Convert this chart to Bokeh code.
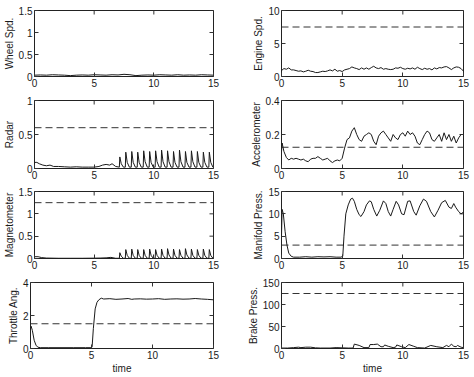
from math import pi
from bokeh.plotting import figure
from bokeh.models import Range1d, FixedTicker
from bokeh.layouts import column, row
from bokeh.embed import file_html
from bokeh.resources import INLINE

# ---------------- data ----------------
x_ticks = [0, 5, 10, 15]

# Wheel speed (sampled every 0.5 s)
wheel_t = [i * 0.5 for i in range(31)]
wheel_v = [0.03, 0.035, 0.03, 0.04, 0.035, 0.03, 0.02, 0.03, 0.035, 0.03, 0.04,
           0.035, 0.03, 0.04, 0.035, 0.05, 0.04, 0.02, 0.03, 0.035, 0.03, 0.04,
           0.035, 0.03, 0.04, 0.03, 0.035, 0.03, 0.04, 0.035, 0.03]

# Engine speed (sampled every 0.2 s)
engine_t = [round(i * 0.2, 1) for i in range(76)]
engine_v = [0.9, 1.2, 1.1, 1.3, 1.0, 1.0, 0.9, 0.8, 0.85, 0.7, 0.8, 0.95, 0.8, 0.75,
            0.6, 0.6, 0.7, 0.8, 0.75, 0.85, 1.0, 0.85, 1.1, 0.8, 0.9, 0.75, 1.0, 1.1,
            1.2, 1.45, 1.3, 1.2, 1.05, 1.3, 1.1, 1.3, 1.1, 1.35, 1.55, 1.3, 1.2, 1.35,
            1.1, 1.2, 1.1, 1.05, 1.1, 1.3, 1.25, 1.4, 1.2, 1.1, 1.25, 1.15, 1.3, 1.1,
            1.4, 1.2, 1.05, 1.25, 1.1, 1.2, 1.0, 1.3, 1.15, 1.35, 1.3, 1.45, 1.5, 1.3,
            1.05, 1.3, 1.45, 1.4, 1.2, 0.8]

# Spike times shared by radar and magnetometer
spike_t = [7.15, 7.65, 8.15, 8.65, 9.15, 9.65, 10.15, 10.65,
           11.15, 11.65, 12.15, 12.65, 13.15, 13.65, 14.15, 14.65]

radar_pre_t = [0, 0.2, 0.4, 0.7, 1.0, 1.3, 1.6, 2.0, 2.5, 3.0, 3.5, 4.0, 4.5, 5.0,
               5.4, 5.7, 6.0, 6.3, 6.5, 6.8]
radar_pre_v = [0.09, 0.09, 0.07, 0.05, 0.04, 0.05, 0.03, 0.03, 0.025, 0.02, 0.025,
               0.02, 0.02, 0.02, 0.03, 0.05, 0.06, 0.05, 0.07, 0.03]
radar_peak = [0.17, 0.24, 0.25, 0.24, 0.26, 0.25, 0.26, 0.27,
              0.26, 0.25, 0.27, 0.25, 0.26, 0.25, 0.24, 0.24]
radar_mid = [0.07, 0.09, 0.09, 0.09, 0.1, 0.09, 0.1, 0.1,
             0.1, 0.09, 0.1, 0.09, 0.1, 0.09, 0.09, 0.09]
radar_base = 0.02

magnet_pre_t = [0, 0.3, 0.6, 1.0, 2.0, 3.0, 4.0, 5.0, 5.5, 6.0, 6.4, 6.8]
magnet_pre_v = [0.04, 0.04, 0.02, 0.01, 0.005, 0.005, 0.005, 0.008, 0.01, 0.015,
                0.025, 0.005]
magnet_peak = [0.13, 0.2, 0.21, 0.2, 0.2, 0.21, 0.2, 0.21,
               0.22, 0.21, 0.2, 0.22, 0.21, 0.2, 0.21, 0.2]
magnet_mid = [0.05, 0.07, 0.07, 0.07, 0.07, 0.07, 0.07, 0.07,
              0.08, 0.07, 0.07, 0.08, 0.07, 0.07, 0.07, 0.07]
magnet_base = 0.005

accel_t = [0, 0.05] + [round(0.2 + i * 0.2, 1) for i in range(74)]
accel_v = [0.10, 0.15, 0.1, 0.065, 0.05, 0.06, 0.055, 0.06, 0.055, 0.05, 0.055,
           0.045, 0.04, 0.055, 0.06, 0.06, 0.07, 0.06, 0.05, 0.055, 0.06, 0.045,
           0.035, 0.045, 0.05, 0.045, 0.06, 0.12, 0.17, 0.18, 0.22, 0.24, 0.2, 0.17,
           0.16, 0.19, 0.2, 0.21, 0.2, 0.16, 0.14, 0.19, 0.21, 0.22, 0.2, 0.18, 0.16,
           0.2, 0.18, 0.17, 0.2, 0.21, 0.19, 0.22, 0.2, 0.21, 0.19, 0.15, 0.14, 0.17,
           0.2, 0.22, 0.21, 0.17, 0.16, 0.18, 0.2, 0.16, 0.21, 0.17, 0.2, 0.16, 0.19,
           0.15, 0.18, 0.2]

manifold_t = [0, 0.05, 0.15, 0.3, 0.45, 0.6, 0.8, 1.0, 1.5, 2.0, 2.5, 3.0, 3.5, 4.0,
              4.5, 4.9, 5.05, 5.15, 5.3, 5.5, 5.7, 5.85, 6.0, 6.2, 6.4, 6.55, 6.8,
              7.0, 7.25, 7.4, 7.6, 7.85, 8.1, 8.4, 8.6, 8.8, 9.0, 9.2, 9.45, 9.65,
              9.9, 10.1, 10.4, 10.6, 10.9, 11.1, 11.4, 11.7, 11.95, 12.3, 12.6, 12.9,
              13.2, 13.5, 13.8, 14.0, 14.2, 14.35, 14.6, 14.8, 15.0]
manifold_v = [5, 11, 10, 6, 3, 1.2, 0.5, 0.3, 0.3, 0.4, 0.3, 0.4, 0.35, 0.4, 0.3,
              0.3, 0.5, 5, 10, 12, 13.3, 13.5, 12.8, 11, 9.8, 9.4, 10.5, 12, 12.9,
              12.7, 11, 9.5, 10.8, 12.9, 12.3, 10.5, 9.5, 11, 12.8, 12, 10, 9.8, 12.8,
              12.9, 10.5, 9.7, 11.8, 13.3, 12.8, 10.5, 9.3, 10.8, 12.5, 13, 11.5,
              11.2, 12.3, 11.5, 10.5, 10.0, 10.4]

throttle_t = [0, 0.05, 0.15, 0.3, 0.45, 0.6, 0.8, 1.5, 2.5, 3.5, 4.5, 5.0, 5.05,
              5.15, 5.3, 5.45, 5.6, 5.8, 6.0, 6.5, 7.0, 7.5, 8.0, 8.3, 8.5, 9.0, 9.5,
              10.0, 10.5, 11.0, 11.5, 12.0, 12.5, 13.0, 13.5, 14.0, 14.5, 15.0]
throttle_v = [1.2, 1.35, 1.1, 0.5, 0.2, 0.08, 0.05, 0.05, 0.05, 0.05, 0.05, 0.05,
              0.1, 1.2, 2.4, 2.8, 2.95, 3.05, 3.0, 3.02, 2.98, 3.0, 3.03, 2.98, 3.0,
              3.01, 2.99, 3.0, 3.02, 2.98, 3.0, 3.01, 2.99, 3.0, 3.03, 3.0, 2.98, 2.95]

brake_t = [0, 0.5, 1.0, 1.4, 1.6, 2.0, 2.4, 2.8, 3.2, 4.0, 4.5, 5.0, 5.5, 5.9, 6.0,
           6.4, 6.8, 7.2, 7.3, 7.6, 7.9, 8.2, 8.4, 8.5, 8.8, 9.2, 9.4, 9.5, 9.9,
           10.2, 10.5, 10.9, 11.2, 11.8, 12.3, 12.8, 13.3, 13.6, 13.8, 14.0, 14.2,
           14.4, 14.5, 14.8, 15.0]
brake_v = [1, 1, 2, 3, 2, 3, 3, 1.5, 1, 1, 2, 1.5, 1, 1, 10, 7, 2, 2, 9, 9, 10, 4,
           4, 8, 5, 2, 3, 8, 4, 2, 9, 5, 2, 1, 7, 4, 2, 7, 4, 10, 5, 4, 7, 3, 2]

# per-panel settings: label, y max, y ticks, tick labels, threshold
panels = {
    "wheel":    ("Wheel Spd.",       1.5, [0, 0.5, 1, 1.5], ["0", "0.5", "1", "1.5"], None),
    "engine":   ("Engine Spd.",      10,  [0, 5, 10],       ["0", "5", "10"], 7.5),
    "radar":    ("Radar",            1,   [0, 0.5, 1],      ["0", "0.5", "1"], 0.6),
    "accel":    ("Accelerometer",    0.4, [0, 0.2, 0.4],    ["0", "0.2", "0.4"], 0.125),
    "magnet":   ("Magnetometer",     1.5, [0, 0.5, 1, 1.5], ["0", "0.5", "1", "1.5"], 1.25),
    "manifold": ("Manifold Press.",  15,  [0, 5, 10, 15],   ["0", "5", "10", "15"], 3),
    "throttle": ("Throttle Ang.",    4,   [0, 2, 4],        ["0", "2", "4"], 1.5),
    "brake":    ("Brake Press.",     150, [0, 50, 100, 150], ["0", "50", "100", "150"], 125),
}


def spikes(pre_t, pre_v, peaks, mids, base):
    t = list(pre_t)
    v = list(pre_v)
    for tk, pk, md in zip(spike_t, peaks, mids):
        t += [tk - 0.04, tk, tk + 0.12, tk + 0.3]
        v += [base, pk, md, base]
    t.append(15.0)
    v.append(base)
    return t, v


radar_t, radar_v = spikes(radar_pre_t, radar_pre_v, radar_peak, radar_mid, radar_base)
magnet_t, magnet_v = spikes(magnet_pre_t, magnet_pre_v, magnet_peak, magnet_mid,
                            magnet_base)

series = {
    "wheel": (wheel_t, wheel_v),
    "engine": (engine_t, engine_v),
    "radar": (radar_t, radar_v),
    "accel": (accel_t, accel_v),
    "magnet": (magnet_t, magnet_v),
    "manifold": (manifold_t, manifold_v),
    "throttle": (throttle_t, throttle_v),
    "brake": (brake_t, brake_v),
}

FONT = "Liberation Sans"
TXT = "#1a1a1a"
LINE = "#1a1a1a"
TICK = "#333333"


def style_axis(ax, ticks, labels):
    ax.ticker = FixedTicker(ticks=ticks)
    ax.minor_tick_line_color = None
    ax.major_tick_in = 4
    ax.major_tick_out = 0
    ax.major_tick_line_color = TICK
    ax.axis_line_color = None
    ax.major_label_text_font = FONT
    ax.major_label_text_font_size = "10px"
    ax.major_label_text_color = TXT
    ax.major_label_standoff = 2
    ax.major_label_overrides = {t: l for t, l in zip(ticks, labels)}


def label_axis(ax, text):
    ax.axis_label = text
    ax.axis_label_text_font = FONT
    ax.axis_label_text_font_size = "10px"
    ax.axis_label_text_font_style = "normal"
    ax.axis_label_text_color = TXT
    ax.axis_label_standoff = 1


def make(key, w, h, bl, br, bt, bb, xlabel=None):
    ylabel, ymax, yt, ytl, thr = panels[key]
    tx, ty = series[key]
    p = figure(width=w, height=h, x_range=Range1d(0, 15), y_range=Range1d(0, ymax),
               output_backend="svg", toolbar_location=None,
               min_border_left=bl, min_border_right=br,
               min_border_top=bt, min_border_bottom=bb)
    p.grid.visible = False
    p.outline_line_color = "#222222"
    p.outline_line_width = 1
    p.background_fill_color = "white"
    p.border_fill_color = "white"

    style_axis(p.xaxis[0], x_ticks, [str(v) for v in x_ticks])
    style_axis(p.yaxis[0], yt, ytl)
    label_axis(p.yaxis[0], ylabel)
    if xlabel:
        label_axis(p.xaxis[0], xlabel)

    # mirrored inner ticks on the top and right edges of the box
    p.scatter(x_ticks, [ymax] * len(x_ticks), marker="dash", size=8, angle=pi / 2,
              line_color=TICK, line_width=1)
    p.scatter([15] * len(yt), yt, marker="dash", size=8,
              line_color=TICK, line_width=1)

    if thr is not None:
        p.line([0, 15], [thr, thr], line_color="#333333", line_width=1,
               line_dash="7 4")
    p.line(tx, ty, line_color=LINE, line_width=1)
    return p


LW, RW = 237, 236
heights = [94, 91, 91, 100]
tops = [10, 6, 6, 6]
bottoms = [18, 17, 18, 26]
grid = [("wheel", "engine"), ("radar", "accel"), ("magnet", "manifold"),
        ("throttle", "brake")]
rows = []
for i, (lk, rk) in enumerate(grid):
    xl = "time" if i == 3 else None
    lp = make(lk, LW, heights[i], 30, 24, tops[i], bottoms[i], xl)
    rp = make(rk, RW, heights[i], 44, 10, tops[i], bottoms[i], xl)
    rows.append(row(lp, rp))

layout = column(*rows)
open("out.html", "w").write(file_html(layout, INLINE))
